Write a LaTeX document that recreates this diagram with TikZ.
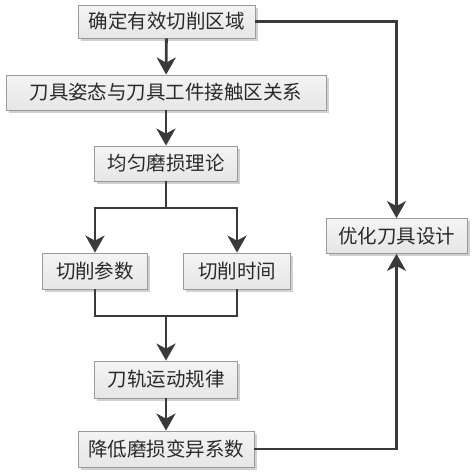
\documentclass[tikz,border=0pt]{standalone}
\usepackage{fontspec}
\newfontfamily\cjk{Noto Sans CJK SC}
\usetikzlibrary{arrows.meta,shadows,positioning}
\definecolor{linec}{HTML}{3A3A3A}
\definecolor{boxborder}{HTML}{9A9A9A}
\definecolor{boxtop}{HTML}{F4F4F4}
\definecolor{boxbot}{HTML}{E6E6E6}
\definecolor{txt}{HTML}{2A2A2A}
\tikzset{
  flowbox/.style={draw=boxborder, line width=0.8pt, top color=boxtop, bottom color=boxbot,
    drop shadow={shadow xshift=2.5pt, shadow yshift=-2.5pt, fill=black!18, opacity=1},
    inner sep=0pt, text=txt, font=\cjk\fontsize{19.5}{22}\selectfont},
  conn/.style={draw=linec, line width=2.8pt},
  arr/.style={conn, -{Stealth[length=17pt,width=19pt,inset=5pt]}},
}
\begin{document}
\begin{tikzpicture}[x=1pt,y=-1pt]
\useasboundingbox (0,0) rectangle (474,474);
\node[flowbox, minimum width=177pt, minimum height=33pt] (b1) at (166.5,21.5) {确定有效切削区域};
\node[flowbox, minimum width=320pt, minimum height=35pt] (b2) at (166,92.5) {刀具姿态与刀具工件接触区关系};
\node[flowbox, minimum width=143pt, minimum height=35pt] (b3) at (166,163.5) {均匀磨损理论};
\node[flowbox, minimum width=105pt, minimum height=36pt] (b4) at (95,271) {切削参数};
\node[flowbox, minimum width=107pt, minimum height=36pt] (b5) at (237,271) {切削时间};
\node[flowbox, minimum width=143pt, minimum height=37pt] (b6) at (166,379.5) {刀轨运动规律};
\node[flowbox, minimum width=176pt, minimum height=36pt] (b7) at (166,449) {降低磨损变异系数};
\node[flowbox, minimum width=141pt, minimum height=35pt] (b8) at (396.5,236) {优化刀具设计};
\coordinate (split) at (166,208);
\coordinate (merge) at (166,316);
\draw[arr] (b1) -- (b2);
\draw[arr] (b2) -- (b3);
\draw[conn] (b3.south) -- (split);
\draw[arr] (split) -| (b4.north);
\draw[arr] (split) -| (b5.north);
\draw[conn] (b4.south) |- (merge);
\draw[conn] (b5.south) |- (merge);
\draw[arr] (merge) -- (b6.north);
\draw[arr] (b6) -- (b7);
\draw[arr] (b1.east) -| (b8.north);
\draw[arr] (b7.east) -| (b8.south);
\end{tikzpicture}
\end{document}
